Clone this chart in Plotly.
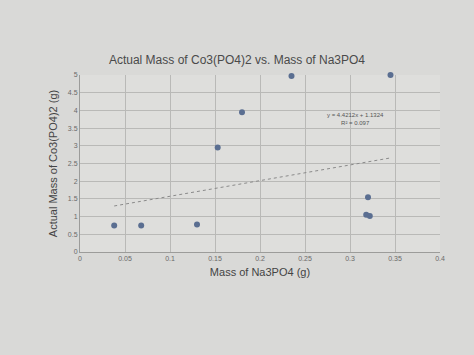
import plotly.graph_objects as go

# Data
mass_na3po4 = [0.038, 0.068, 0.130, 0.153, 0.180, 0.235, 0.318, 0.320, 0.322, 0.345]
mass_co3po42 = [0.75, 0.75, 0.78, 2.95, 3.95, 4.97, 1.05, 1.55, 1.02, 5.0]
trend_slope = 4.4212
trend_intercept = 1.1324
trend_x = [min(mass_na3po4), max(mass_na3po4)]
trend_y = [trend_slope * x + trend_intercept for x in trend_x]

x_ticks = [0, 0.05, 0.1, 0.15, 0.2, 0.25, 0.3, 0.35, 0.4]
y_ticks = [0, 0.5, 1, 1.5, 2, 2.5, 3, 3.5, 4, 4.5, 5]

fig = go.Figure()
fig.add_trace(go.Scatter(x=trend_x, y=trend_y, mode="lines",
                         line=dict(color="#8a8a8a", width=1, dash="dot"),
                         showlegend=False, hoverinfo="skip"))
fig.add_trace(go.Scatter(x=mass_na3po4, y=mass_co3po42, mode="markers",
                         marker=dict(color="#5a6e91", size=6),
                         showlegend=False, cliponaxis=False))

fig.add_annotation(x=0.306, y=3.75, xref="x", yref="y",
                   text="y = 4.4212x + 1.1324<br>R² = 0.097",
                   showarrow=False, font=dict(size=6, color="#555"), align="center")

fig.update_layout(
    width=474, height=355,
    margin=dict(l=80, r=34, t=75, b=103),
    paper_bgcolor="#d9d9d7", plot_bgcolor="#dededc",
    title=dict(text="Actual Mass of Co3(PO4)2 vs. Mass of Na3PO4",
               x=0.5, xanchor="center", y=0.82, yanchor="bottom",
               font=dict(family="Liberation Sans, Arial", size=12, color="#4a4a4a")),
    font=dict(family="Liberation Sans, Arial", color="#555"),
)
fig.update_xaxes(range=[0, 0.4], tickvals=x_ticks,
                 ticktext=["0", "0.05", "0.1", "0.15", "0.2", "0.25", "0.3", "0.35", "0.4"],
                 showgrid=True, gridcolor="#b9b9b7", gridwidth=1, zeroline=False,
                 showline=True, linecolor="#9c9c9a", tickfont=dict(size=7, color="#6a6a6a"),
                 title=dict(text="Mass of Na3PO4 (g)", font=dict(size=11, color="#444"), standoff=6))
fig.update_yaxes(range=[0, 5], tickvals=y_ticks,
                 ticktext=["0", "0.5", "1", "1.5", "2", "2.5", "3", "3.5", "4", "4.5", "5"],
                 showgrid=True, gridcolor="#b9b9b7", gridwidth=1, zeroline=False,
                 showline=True, linecolor="#9c9c9a", tickfont=dict(size=7, color="#6a6a6a"),
                 title=dict(text="Actual Mass of Co3(PO4)2 (g)", font=dict(size=11, color="#444"), standoff=8))

fig.write_html("out.html")
